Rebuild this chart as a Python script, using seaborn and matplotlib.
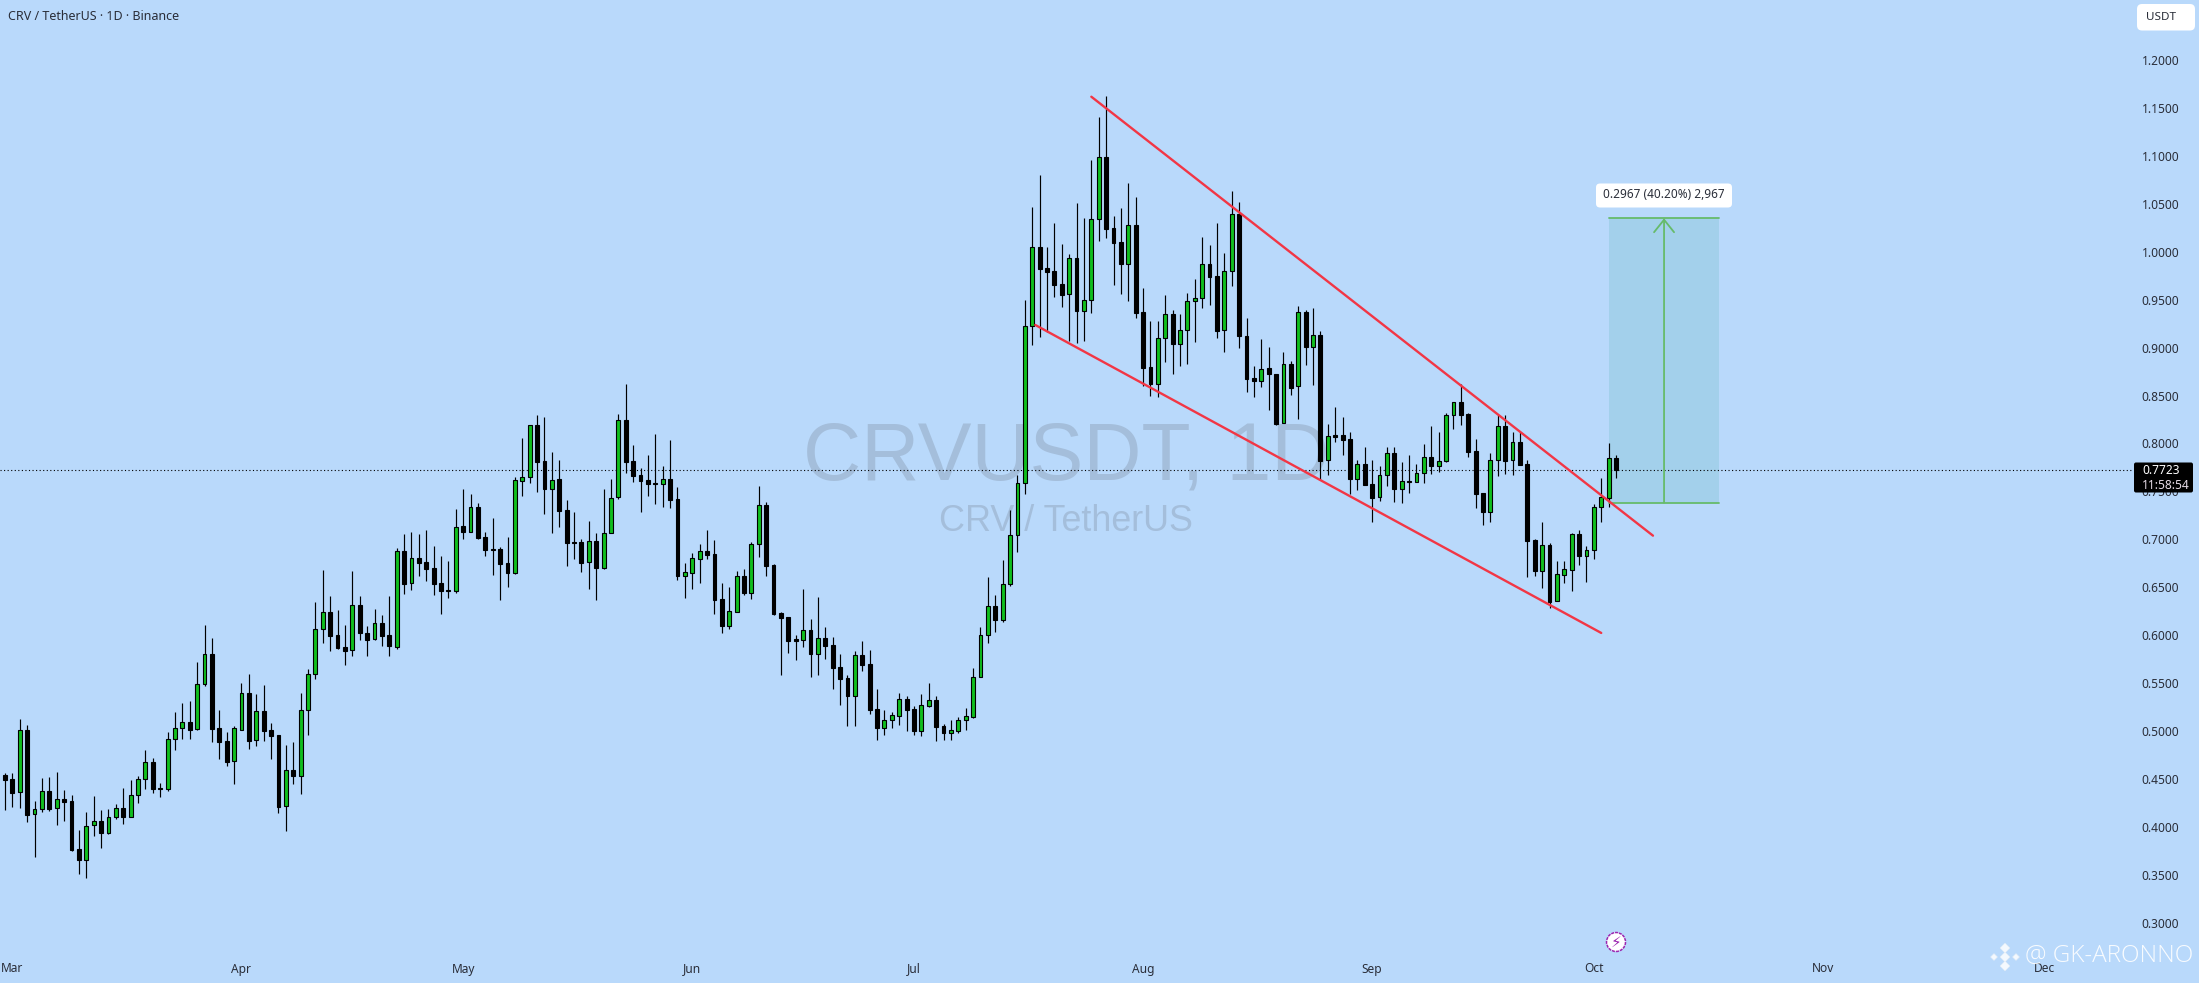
import numpy as np
import pandas as pd
import matplotlib
matplotlib.use("Agg")
import matplotlib.pyplot as plt
import matplotlib.dates as mdates
from matplotlib.patches import FancyBboxPatch, Circle, Polygon
import seaborn as sns

W, H = 2199, 983
BG = "#b9d9fb"
GREEN = "#10bf1e"
RED = "#f23645"
LONG = "#66bb6a"
BOX = "#a3d0eb"
TEXT = "#2a2e39"

start_date = "2025-02-28"

opens = [
    .4541, .4496, .4360, .5007, .4131, .4183, .4371, .4193, .4287, .4266,
    .3766, .3658, .4016, .4058, .3940, .4099, .4193, .4106, .4329, .4496,
    .4673, .4402, .4391, .4913, .5028, .5090, .5017, .5487, .5800, .5028,
    .4892, .4684, .5014, .5393, .4903, .5205, .5007, .4955, .4214, .4590,
    .4534, .5216, .5591, .6060, .6238, .5998, .5873, .5841, .6311, .6019,
    .5956, .6123, .5998, .5880, .6875, .6541, .6802, .6760, .6697, .6541,
    .6468, .6465, .7136, .7080, .7334, .7021, .6896, .6896, .6750, .6652,
    .7612, .7647, .8189, .7814, .7529, .7626, .7303, .6969, .6969, .6760,
    .6979, .6704, .7070, .7438, .8241, .7814, .7668, .7615, .7584, .7581,
    .7626, .7417, .6621, .6652, .6798, .6875, .6844, .6374, .6099, .6246,
    .6614, .6444, .6948, .7355, .6729, .6228, .6186, .5960, .5953, .6051,
    .5807, .5967, .5894, .5665, .5550, .5369, .5790, .5696, .5227, .5035,
    .5112, .5160, .5331, .5227, .5004, .5265, .5320, .5049, .4983, .5004,
    .5112, .5150, .5560, .5998, .6301, .6162, .6530, .7042, .7584, .9221,
    1.0046, .9827, .9795, .9660, .9555, .9931, .9385, .9493, 1.0338, 1.0984,
    1.0244, 1.0098, .9875, 1.0275, .9367, .8794, .8624, .9096, .9347, .9041,
    .9180, .9482, .9514, .9868, .9743, .9180, .9795, 1.0390, .9117, .8679,
    .8655, .8783, .8721, .8210, .8825, .8596, .9367, .9009, .9128, .7824,
    .8085, .8085, .8043, .7633, .7782, .7574, .7445, .7667, .7897, .7528,
    .7605, .7594, .7688, .7855, .7768, .7814, .8293, .8429, .8304, .7918,
    .7480, .7288, .7824, .8179, .7824, .8012, .7782, .6990, .6673, .6937,
    .6360, .6631, .6684, .7052, .6830, .6885, .7334, .7435, .7845,
]
highs = [
    .4558, .4558, .5122, .5063, .4266, .4506, .4517, .4569, .4385, .4329,
    .3967, .4155, .4319, .4172, .4183, .4235, .4402, .4485, .4527, .4798,
    .4715, .4454, .4986, .5195, .5289, .5309, .5716, .6102, .5967, .5216,
    .4986, .5049, .5497, .5591, .5382, .5476, .5080, .4955, .4850, .4882,
    .5393, .5643, .6342, .6676, .6405, .6259, .6102, .6665, .6405, .6092,
    .6269, .6207, .6405, .6905, .7052, .7073, .7052, .7094, .6927, .6823,
    .6771, .7313, .7522, .7469, .7375, .7073, .7219, .6917, .7021, .7647,
    .8054, .8196, .8293, .8273, .7907, .7824, .7407, .7282, .7000, .7188,
    .7063, .7522, .7626, .8304, .8617, .7981, .7741, .7876, .8095, .7761,
    .8033, .7542, .6750, .6854, .6948, .7094, .6990, .6541, .6499, .6666,
    .6687, .6969, .7553, .7386, .6739, .6239, .6186, .5999, .6478, .6166,
    .6395, .6082, .5978, .5800, .5581, .5832, .5936, .5842, .5435, .5216,
    .5195, .5393, .5362, .5258, .5383, .5498, .5362, .5070, .5112, .5143,
    .5237, .5654, .6082, .6603, .6416, .6781, .7302, .7667, .9497, 1.0463,
    1.0797, 1.0046, 1.0296, 1.0077, .9973, 1.0504, 1.0348, 1.0953, 1.1402, 1.1621,
    1.0369, 1.0452, 1.0713, 1.0567, .9618, .9274, .9274, .9545, .9388, .9347,
    .9566, .9712, 1.0150, 1.0066, 1.0296, .9983, 1.0630, 1.0515, .9305, .8804,
    .9086, .9002, .8721, .8950, .8856, .9430, .9388, .9409, .9169, .8203,
    .8377, .8272, .8116, .7824, .7960, .7824, .7761, .7960, .7960, .7803,
    .7876, .7782, .7991, .8179, .8116, .8314, .8429, .8617, .8314, .8043,
    .7480, .7897, .8293, .8293, .8116, .8116, .7824, .7000, .7177, .6958,
    .6771, .6771, .7063, .7094, .6927, .7365, .7636, .8001, .7876,
]
lows = [
    .4176, .4211, .4200, .4054, .3689, .4159, .4169, .4019, .4065, .3748,
    .3512, .3470, .3908, .3783, .3929, .4079, .4033, .4106, .4252, .4398,
    .4357, .4315, .4378, .4805, .4920, .4920, .5007, .5473, .4889, .4711,
    .4638, .4451, .5007, .4816, .4847, .4899, .4711, .4148, .3960, .4451,
    .4346, .4962, .5546, .5921, .5838, .5859, .5692, .5786, .5953, .5786,
    .5949, .5890, .5786, .5859, .6433, .6475, .6621, .6569, .6423, .6225,
    .6392, .6444, .7007, .7080, .7007, .6830, .6631, .6371, .6506, .6642,
    .7455, .7591, .7497, .7268, .7070, .7132, .6725, .6798, .6663, .6485,
    .6371, .6694, .7070, .7424, .7695, .7602, .7289, .7455, .7372, .7341,
    .7330, .6579, .6392, .6485, .6548, .6795, .6225, .6026, .6068, .6246,
    .6423, .6381, .6819, .6621, .6214, .5588, .5818, .5745, .5880, .5567,
    .5588, .5755, .5442, .5275, .5056, .5056, .5630, .5182, .4910, .4962,
    .5035, .5067, .5004, .4962, .4952, .5254, .4900, .4910, .4910, .4983,
    .5014, .5140, .5560, .5922, .6037, .6141, .6510, .6871, .7476, .9030,
    .9114, .9159, .9531, .9427, .9072, .9051, .9072, .9364, 1.0115, 1.0146,
    .9656, .9562, .9489, .9312, .8603, .8498, .8488, .8853, .8728, .8811,
    .8832, .9062, .9416, .9447, .9103, .8957, .9646, .8999, .8540, .8488,
    .8592, .8352, .8189, .8210, .8509, .8258, .8822, .8613, .7619, .7674,
    .8019, .7883, .7476, .7518, .7570, .7184, .7403, .7560, .7393, .7382,
    .7487, .7594, .7591, .7685, .7706, .7810, .8154, .8196, .7862, .7330,
    .7153, .7184, .7664, .7685, .7674, .7779, .6611, .6621, .6496, .6287,
    .6360, .6548, .6465, .6736, .6558, .6798, .7184, .7341, .7643,
]
closes = [
    .4489, .4357, .5007, .4127, .4183, .4371, .4190, .4287, .4263, .3759,
    .3658, .4006, .4058, .3940, .4099, .4193, .4106, .4329, .4496, .4673,
    .4398, .4398, .4913, .5028, .5090, .5014, .5487, .5800, .5024, .4889,
    .4680, .5028, .5393, .4899, .5205, .5004, .4951, .4211, .4590, .4534,
    .5216, .5591, .6060, .6238, .5994, .5869, .5838, .6311, .6019, .5953,
    .6123, .5994, .5890, .6874, .6538, .6802, .6757, .6694, .6538, .6465,
    .6465, .7125, .7080, .7334, .7017, .6892, .6892, .6746, .6652, .7615,
    .7647, .8189, .7810, .7529, .7615, .7299, .6965, .6965, .6757, .6979,
    .6704, .7070, .7428, .8241, .7810, .7664, .7612, .7581, .7581, .7626,
    .7414, .6621, .6656, .6802, .6875, .6840, .6371, .6099, .6249, .6614,
    .6444, .6948, .7355, .6725, .6225, .6183, .5943, .5943, .6051, .5807,
    .5967, .5891, .5661, .5547, .5369, .5790, .5693, .5223, .5035, .5112,
    .5164, .5331, .5223, .5004, .5268, .5320, .5046, .4983, .5008, .5112,
    .5154, .5560, .5998, .6301, .6162, .6530, .7042, .7584, .9222, 1.0046,
    .9823, .9792, .9656, .9552, .9931, .9385, .9493, 1.0338, 1.0984, 1.0240,
    1.0094, .9875, 1.0275, .9364, .8790, .8624, .9096, .9347, .9041, .9180,
    .9482, .9514, .9868, .9740, .9176, .9795, 1.0390, .9124, .8676, .8655,
    .8780, .8728, .8206, .8825, .8582, .9367, .9009, .9128, .7820, .8074,
    .8071, .8040, .7633, .7782, .7570, .7434, .7667, .7897, .7528, .7605,
    .7601, .7688, .7855, .7768, .7814, .8293, .8429, .8300, .7914, .7476,
    .7288, .7824, .8179, .7821, .8012, .7779, .6986, .6673, .6937, .6350,
    .6635, .6687, .7052, .6830, .6885, .7334, .7438, .7845, .7723,
]

price_ticks = [.30, .35, .40, .45, .50, .55, .60, .65, .70, .75, .80, .85, .90,
               .95, 1.00, 1.05, 1.10, 1.15, 1.20]
month_ticks = ["2025-03-01", "2025-04-01", "2025-05-01", "2025-06-01", "2025-07-01",
               "2025-08-01", "2025-09-01", "2025-10-01", "2025-11-01", "2025-12-01"]
month_labels = ["Mar", "Apr", "May", "Jun", "Jul", "Aug", "Sep", "Oct", "Nov", "Dec"]

upper_dates = ["2025-07-25 00:00", "2025-10-09 00:00"]
upper_prices = [1.1617, .7038]
lower_dates = ["2025-07-17 10:00", "2025-10-02 00:00"]
lower_prices = [.9236, .6023]

last_price = .7723
long_start, long_end = "2025-10-03", "2025-10-18"
long_mid = "2025-10-10 12:00"
long_entry, long_target = .7382, 1.0349


def px_text(x, y, s, **kw):
    kw.setdefault("va", "center")
    return fig.text(x / W, 1 - y / H, s, **kw)


def px_box(x0, y0, x1, y1, color, radius=3, **kw):
    box = FancyBboxPatch((x0 / 100, (H - y1) / 100), (x1 - x0) / 100, (y1 - y0) / 100,
                         boxstyle=f"round,pad=0,rounding_size={radius / 100}",
                         transform=fig.dpi_scale_trans, facecolor=color,
                         edgecolor="none", zorder=5, **kw)
    fig.add_artist(box)


sns.set_theme(style="white", rc={"axes.facecolor": BG, "figure.facecolor": BG})
plt.rcParams["font.family"] = ["Noto Sans", "DejaVu Sans"]

candles = pd.DataFrame({
    "date": pd.date_range(start_date, periods=len(opens)),
    "open": opens, "high": highs, "low": lows, "close": closes,
})
candles["top"] = candles[["open", "close"]].max(axis=1)
candles["bottom"] = candles[["open", "close"]].min(axis=1)
body_colors = [GREEN if c > o else "black" for o, c in zip(opens, closes)]

fig = plt.figure(figsize=(W / 100, H / 100), dpi=100)
plot_right, plot_bottom = 2132, 950
ax = fig.add_axes([0, 1 - plot_bottom / H, plot_right / W, plot_bottom / H])

# chart pixels per day / per price unit in the reference
day_px, unit_px = 7.39, 958.6
x0 = mdates.date2num(pd.Timestamp(start_date)) - 5 / day_px
ax.set_xlim(x0, x0 + plot_right / day_px)
ax.set_ylim(1.2 - (plot_bottom - 60) / unit_px, 1.2 + 60 / unit_px)

# background texts and last price line
ax.text(1066 / plot_right, 1 - 480 / plot_bottom, "CRVUSDT, 1D", transform=ax.transAxes,
        family="Liberation Sans", fontsize=58, color="#a4bedb", ha="center", va="baseline",
        zorder=1)
ax.text(1066 / plot_right, 1 - 530.7 / plot_bottom, "CRV / TetherUS", transform=ax.transAxes,
        family="Liberation Sans", fontsize=25.8, color="#a4bedb", ha="center", va="baseline",
        zorder=1)

# long position box
ax.fill_between(pd.to_datetime([long_start, long_end]), long_entry, long_target,
                color=BOX, linewidth=0, zorder=1.5)
ax.axhline(last_price, color="black", lw=0.8, ls=(0, (1, 2.2)), zorder=2)

ax.vlines(candles["date"], candles["low"], candles["high"], color="black", lw=0.85, zorder=3)
ax.bar(candles["date"], candles["top"] - candles["bottom"], bottom=candles["bottom"],
       width=0.52, color=body_colors, edgecolor="black", linewidth=0.8, zorder=4)

for level in (long_entry, long_target):
    sns.lineplot(x=pd.to_datetime([long_start, long_end]), y=[level, level], ax=ax,
                 color=LONG, lw=1.3, zorder=5)
ax.annotate("", xy=(pd.Timestamp(long_mid), long_target),
            xytext=(pd.Timestamp(long_mid), long_entry),
            arrowprops=dict(arrowstyle="->,head_length=0.75,head_width=0.6", color=LONG, lw=1.3,
                            shrinkA=0, shrinkB=0), zorder=5)

for xs, ys in ((upper_dates, upper_prices), (lower_dates, lower_prices)):
    sns.lineplot(x=pd.to_datetime(xs), y=ys, ax=ax, color=RED, lw=1.7, zorder=6)

ax.set_yticks(price_ticks)
ax.set_yticklabels([f"{p:.4f}" for p in price_ticks], color=TEXT, fontsize=8.6)
ax.yaxis.tick_right()
ax.set_xticks(pd.to_datetime(month_ticks))
ax.set_xticklabels(month_labels, color=TEXT, fontsize=8.6)
ax.tick_params(axis="y", length=0, pad=7)
ax.tick_params(axis="x", length=0, pad=9)
ax.set_xlabel("")
ax.set_ylabel("")
sns.despine(ax=ax, left=True, bottom=True, right=True, top=True)

# header and scale badges
px_text(8, 16.5, "CRV / TetherUS · 1D · Binance", color=TEXT, fontsize=9, fontweight="semibold")
px_box(2137, 4, 2195, 30.5, "white", radius=5)
px_text(2146, 17.5, "USDT", color=TEXT, fontsize=8.4, zorder=6)

px_box(2134, 462.5, 2193, 492.5, "black", radius=2)
px_text(2142, 470.5, "0.7723", color="white", fontsize=8.6, fontweight="bold", zorder=6)
px_text(2142, 485, "11:58:54", color="#e6dbe6", fontsize=8.6, zorder=6)

# measure label
px_box(1596, 183.5, 1732, 207.5, "white", radius=4)
px_text(1664, 195, "0.2967 (40.20%) 2,967", color=TEXT, fontsize=8.5, ha="center", zorder=6)

# lightning icon
fig.add_artist(Circle((1616 / 100, (H - 942) / 100), 0.095, transform=fig.dpi_scale_trans,
                      facecolor="white", edgecolor="#9c27b0", lw=1.1, ls=(0, (2, 0.6)), zorder=5))
px_text(1616, 942, "\u26a1", color="#9c27b0", fontsize=11, family="DejaVu Sans", ha="center",
        zorder=6)

# signature bottom right
for cx, cy, r in ((2005, 957, 5), (1994, 957, 3.5), (2016, 957, 3.5), (2005, 948, 5), (2005, 966, 5)):
    fig.add_artist(Polygon([((cx - r) / W, 1 - cy / H), (cx / W, 1 - (cy - r) / H),
                            ((cx + r) / W, 1 - cy / H), (cx / W, 1 - (cy + r) / H)],
                           transform=fig.transFigure, facecolor="white", edgecolor="#dfe9f5",
                           lw=0.4, alpha=0.85, zorder=5))
px_text(2025, 956, "@ GK-ARONNO", color="white", alpha=0.9, fontsize=17.5, family="Open Sans",
        fontweight="light", zorder=6)

fig.savefig("out.png", dpi=100, facecolor=BG)
